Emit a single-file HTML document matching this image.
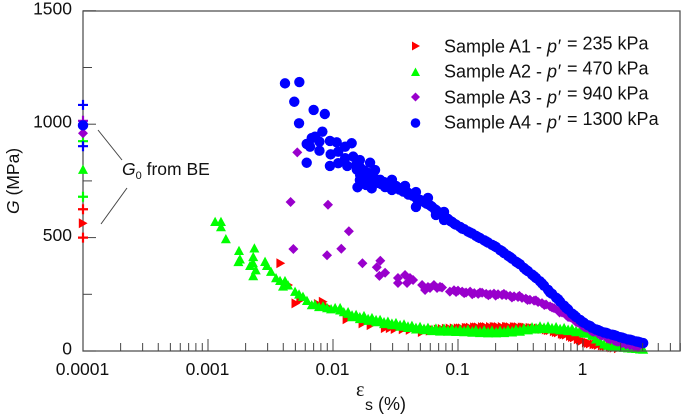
<!DOCTYPE html>
<html>
<head>
<meta charset="utf-8">
<title>G versus shear strain</title>
<style>
html,body{margin:0;padding:0;background:#fff;}
svg{display:block;}
text{font-family:"Liberation Sans",sans-serif;fill:#111;font-size:17.5px;}
.leg{font-size:18px;}
.it{font-style:italic;}
.axis{stroke:#555;stroke-width:1.3;fill:none;}
.tick{stroke:#444;stroke-width:1;}
.lead{stroke:#444;stroke-width:1;}
</style>
</head>
<body>
<svg id="chart" xmlns="http://www.w3.org/2000/svg" width="685" height="418" viewBox="0 0 685 418">
  <g id="marks"></g>
  <g id="axes">
    <rect class="axis" x="83" y="11" width="597" height="340"></rect>
  </g>
  <g id="g0marks"></g>
  <text transform="translate(19,214) rotate(-90)"><tspan class="it">G</tspan> (MPa)</text>
  <text x="356" y="396" style="font-family:'Liberation Serif',serif;font-size:20px">ε</text>
  <text x="365" y="410" style="font-size:16px">s</text>
  <text x="378" y="410" style="font-size:18px">(%)</text>
  <g>
    <line class="lead" x1="98" y1="130" x2="122" y2="160"></line>
    <line class="lead" x1="127" y1="188" x2="101" y2="224"></line>
    <text x="122" y="175"><tspan class="it">G</tspan><tspan dy="4" style="font-size:11px">0</tspan><tspan dy="-4"> from BE</tspan></text>
  </g>
  <g>
    <g>
      <polygon points="412,41.5 420,46 412,50.5" fill="#ff0000"></polygon>
      <text class="leg" x="444" y="52.5">Sample A1 -</text>
      <text class="leg it" x="547" y="52.5">p′</text>
      <text class="leg" x="567" y="49.5">= 235 kPa</text>
    </g>
    <g>
      <polygon points="411,76 420,76 415.5,67.5" fill="#00ff00"></polygon>
      <text class="leg" x="444" y="77.5">Sample A2 -</text>
      <text class="leg it" x="547" y="77.5">p′</text>
      <text class="leg" x="567" y="74.5">= 470 kPa</text>
    </g>
    <g>
      <polygon points="415.5,92.5 420,97 415.5,101.5 411,97" fill="#9900cc"></polygon>
      <text class="leg" x="444" y="103.5">Sample A3 -</text>
      <text class="leg it" x="547" y="103.5">p′</text>
      <text class="leg" x="567" y="99.5">= 940 kPa</text>
    </g>
    <g>
      <circle cx="415.5" cy="123" r="4.8" fill="#0000ff"></circle>
      <text class="leg" x="444" y="128.5">Sample A4 -</text>
      <text class="leg it" x="547" y="128.5">p′</text>
      <text class="leg" x="567" y="125">= 1300 kPa</text>
    </g>
  </g>
</svg>
<script>
var yTickLabels = [0, 500, 1000, 1500];
var yMinorTicks = [250, 750, 1250];
var xTickLabels = ["0.0001", "0.001", "0.01", "0.1", "1"];
var xMajorTicks = [0.0001, 0.001, 0.01, 0.1, 1];
var xMinorTicks = [0.0002,0.0003,0.0004,0.0005,0.0006,0.0007,0.0008,0.0009,0.002,0.003,0.004,0.005,0.006,0.007,0.008,0.009,0.02,0.03,0.04,0.05,0.06,0.07,0.08,0.09,0.2,0.3,0.4,0.5,0.6,0.7,0.8,0.9,2,3,4,5,6];

var a1Strain = [0.00381,0.0044,0.00503,0.0055,0.0076,0.00832,0.0091,0.0129,0.0173,0.0201,0.0261,0.0286,0.0313,0.0363,0.0413,0.0516,0.0597,0.0642,0.0692,0.0745,0.0803,0.0861,0.0929,0.1,0.108,0.116,0.125,0.135,0.145,0.156,0.168,0.181,0.194,0.209,0.225,0.243,0.261,0.281,0.302,0.325,0.349,0.376,0.406,0.437,0.47,0.506,0.545,0.587,0.633,0.68,0.733,0.79,0.85,0.912,0.98,1.06,1.14,1.22,1.32,1.42,1.53,1.65,1.77,1.91,0.104,0.12,0.14,0.162,0.2,0.25,0.29,0.336,0.39,0.45,0.525,0.61,0.7,0.82,0.95,1.1,1.27,1.47,1.7];
var a1G = [387,291,210,225,207,217,194,140,122,114,101,101,97,96,93,84,90,92,95,97,98,99,100,100,100,102,103,104,104,105,105,106,106,106,106,106,105,105,105,104,103,102,100,99,97,95,92,87,82,76,72,66,60,52,45,38,33,30,27,24,21,18,15,12,100,102,104,105,106,106,105,104,101,98,92,84,73,62,50,36,29,23,16];

var a2Strain = [0.00114,0.00127,0.00127,0.00139,0.00177,0.00235,0.0023,0.0018,0.00175,0.00229,0.00217,0.00241,0.0023,0.00286,0.00296,0.00319,0.0035,0.00377,0.00413,0.00398,0.00437,0.00497,0.00535,0.00575,0.00619,0.00676,0.00718,0.00773,0.00832,0.00896,0.00965,0.0104,0.0114,0.0122,0.0132,0.0142,0.0153,0.0164,0.0177,0.0191,0.0205,0.0221,0.0238,0.0256,0.0275,0.0296,0.0319,0.0344,0.037,0.0398,0.0428,0.0461,0.0497,0.0535,0.0575,0.0619,0.0666,0.0718,0.0773,0.0832,0.0896,0.0965,0.104,0.112,0.12,0.13,0.139,0.15,0.162,0.174,0.187,0.202,0.217,0.234,0.251,0.271,0.291,0.313,0.337,0.363,0.391,0.421,0.453,0.488,0.525,0.565,0.609,0.656,0.706,0.76,0.817,0.88,0.948,1.02,1.1,1.18,1.27,1.37,1.47,1.58,1.71,1.84,1.98,2.13,2.29,2.47,2.66,2.86,3.03,0.0114,0.0132,0.0153,0.0177,0.0205,0.0238,0.0275,0.0319,0.037,0.0428,0.0497,0.0575,0.0666,0.0773,0.0896,0.104,0.12,0.139,0.162,0.187,0.217,0.251,0.291,0.337,0.391,0.453,0.525,0.609,0.706,0.817,0.948,1.1,0.0142,0.0164,0.0191,0.0221,0.0256,0.0296,0.0344,0.0398,0.0461,0.0535,0.0619,0.0718,0.0832,0.0965,0.112,0.13,0.15,0.174,0.202,0.234,0.271,0.313,0.363,0.421,0.488,0.565,0.656,0.76,0.88,1.02];
var a2G = [570,570,547,494,442,453,415,405,393,388,376,357,331,394,376,350,322,310,309,285,290,262,250,240,222,203,205,195,198,190,185,190,180,172,165,158,152,150,148,142,138,137,130,128,124,122,118,115,110,109,105,103,101,99,97,95,94,93,93,92,92,91,90,90,88,88,87,86,85,85,85,85,85,86,87,89,90,92,95,98,100,102,103,104,103,102,100,98,96,95,92,90,87,84,78,68,52,42,30,24,20,18,16,15,13,11,10,8,7,190,172,160,155,146,138,130,124,118,112,107,103,100,99,98,96,95,93,92,91,91,93,96,101,105,109,109,106,102,98,92,78,150,142,134,128,120,115,108,103,96,93,89,87,86,85,84,82,80,79,79,80,83,86,92,96,98,96,92,89,84,78];

var a3Strain = [0.00458,0.00518,0.00912,0.0134,0.00482,0.01165,0.00896,0.0172,0.0239,0.0224,0.0261,0.0235,0.0331,0.0331,0.0377,0.0391,0.0413,0.0437,0.0516,0.0545,0.0575,0.0597,0.0642,0.068,0.0718,0.0745,0.0861,0.0929,0.1,0.108,0.116,0.125,0.135,0.145,0.156,0.168,0.181,0.194,0.209,0.225,0.243,0.261,0.281,0.302,0.325,0.349,0.376,0.406,0.437,0.47,0.506,0.545,0.587,0.633,0.68,0.733,0.79,0.85,0.912,0.98,1.06,1.14,1.22,1.32,1.42,1.53,1.65,1.77,1.91,2.05,2.21,2.38,2.56,2.75,0.0965,0.112,0.13,0.15,0.175,0.2,0.233,0.27,0.31,0.36,0.42,0.49,0.566,0.65,0.76,0.88,1.02,1.18,1.37,1.59,1.84];
var a3G = [657,876,645,528,450,451,422,387,398,369,345,331,322,300,335,300,322,313,291,269,282,278,291,278,283,280,262,268,266,262,258,262,255,252,257,252,250,253,250,247,246,243,241,238,234,231,226,222,216,211,205,197,189,178,170,158,148,136,125,112,102,92,84,76,68,60,52,46,40,34,28,24,20,16,260,255,250,258,246,244,252,236,243,225,223,203,192,170,150,128,105,86,70,54,42];

var a4Strain = [0.00413,0.00538,0.0049,0.007,0.0086,0.00535,0.00822,0.00616,0.00676,0.00655,0.00718,0.00779,0.00779,0.00945,0.0107,0.0141,0.0125,0.011,0.00958,0.00616,0.00945,0.011,0.0125,0.0145,0.013,0.0198,0.0157,0.0204,0.0153,0.0164,0.0174,0.0184,0.0164,0.0217,0.0198,0.0232,0.0184,0.0261,0.0377,0.0296,0.0164,0.0177,0.0191,0.0205,0.0221,0.0238,0.0256,0.0275,0.0296,0.0319,0.0344,0.037,0.0398,0.0428,0.0461,0.0497,0.0535,0.0575,0.0619,0.0666,0.0718,0.0773,0.0832,0.0896,0.0965,0.104,0.112,0.12,0.13,0.139,0.15,0.162,0.174,0.187,0.202,0.217,0.234,0.251,0.271,0.291,0.313,0.337,0.363,0.391,0.421,0.453,0.488,0.525,0.565,0.609,0.656,0.706,0.76,0.817,0.88,0.948,1.02,1.1,1.18,1.27,1.37,1.47,1.58,1.71,1.84,1.98,2.13,2.29,2.47,2.66,2.86,3.03,0.108,0.125,0.145,0.168,0.195,0.225,0.261,0.302,0.35,0.406,0.47,0.545,0.633,0.733,0.85,0.98,1.14,1.32,1.53,1.77,2.05,2.38,2.75,0.0155,0.0165,0.0175,0.019,0.0205,0.0225,0.0245,0.0265,0.029,0.0315,0.034,0.0365,0.04,0.0435,0.047,0.051,0.056,0.0605,0.065,0.07,0.075,0.081,0.087,0.094,0.0296,0.0461,0.0575,0.0773,0.0461,0.0666,0.0773];
var a4G = [1180,1186,1099,1063,1045,1004,967,913,939,901,945,923,883,926,920,916,901,879,867,830,816,828,850,857,816,830,722,717,820,842,798,772,754,798,763,741,732,723,728,710,811,795,785,775,757,755,745,740,735,728,718,708,698,688,678,666,657,648,636,622,610,596,582,569,557,547,537,527,518,508,498,488,478,468,458,445,432,420,407,394,382,366,352,337,322,307,288,270,252,235,217,200,183,165,150,137,124,113,103,95,88,82,77,72,67,61,56,51,47,42,38,35,540,522,502,483,463,440,414,388,358,330,298,258,228,190,158,130,110,92,80,70,59,50,41,800,775,780,760,750,745,735,728,720,722,712,703,690,684,670,662,650,640,626,612,600,585,573,560,755,701,675,613,635,600,578];

var g0CrossA1 = [500, 625];
var g0CrossA2 = [680, 925];
var g0CrossA3 = [1015];
var g0CrossA4 = [903, 1085];
var g0PointA1 = 563;
var g0PointA2 = 800;
var g0PointA3 = 960;
var g0PointA4 = 995;
var g0Strain = 0.0001;

var NS = 'http://www.w3.org/2000/svg';
var marks = document.getElementById('marks');
var axes = document.getElementById('axes');
var g0marks = document.getElementById('g0marks');

function xScale(v){ return 83 + (Math.log(v) / Math.LN10 + 4) * 125; }
function yScale(v){ return 351 - v * 0.2268; }

function make(tag, parent, attrs){
  var el = document.createElementNS(NS, tag);
  for (var k in attrs) { el.setAttribute(k, attrs[k]); }
  parent.appendChild(el);
  return el;
}
function triRight(parent, x, y){
  return make('polygon', parent, {points:(x-4.2)+','+(y-5)+' '+(x+4.6)+','+y+' '+(x-4.2)+','+(y+5), fill:'#ff0000'});
}
function triUp(parent, x, y){
  return make('polygon', parent, {points:(x-5)+','+(y+4.3)+' '+(x+5)+','+(y+4.3)+' '+x+','+(y-5), fill:'#00ff00'});
}
function diamond(parent, x, y){
  return make('polygon', parent, {points:x+','+(y-5)+' '+(x+5)+','+y+' '+x+','+(y+5)+' '+(x-5)+','+y, fill:'#9900cc'});
}
function dot(parent, x, y){
  return make('circle', parent, {cx:x, cy:y, r:5.2, fill:'#0000ff'});
}
function cross(parent, x, y, color){
  var g = make('path', parent, {d:'M'+(x-5)+' '+y+'H'+(x+5)+'M'+x+' '+(y-5)+'V'+(y+5), stroke:color, 'stroke-width':2.2, fill:'none'});
  return g;
}

var a1Group = make('g', marks, {});


a1Strain.forEach(function(s, i){
  var el = triRight(a1Group, xScale(s), yScale(a1G[i]));
  
  
});
var a2Group = make('g', marks, {});


a2Strain.forEach(function(s, i){
  var el = triUp(a2Group, xScale(s), yScale(a2G[i]));
  
  
});
var a3Group = make('g', marks, {});


a3Strain.forEach(function(s, i){
  var el = diamond(a3Group, xScale(s), yScale(a3G[i]));
  
  
});
var a4Group = make('g', marks, {});


a4Strain.forEach(function(s, i){
  var el = dot(a4Group, xScale(s), yScale(a4G[i]));
  
  
});

xMajorTicks.forEach(function(v, i){
  var x = xScale(v);
  var t = make('line', axes, {x1:x, x2:x, y1:351, y2:i === 0 ? 351 : 339, 'class':'tick'});
  
  
  var l = make('text', axes, {x:x - 0.5, y:375, 'text-anchor':'middle'});
  l.textContent = xTickLabels[i];
  
  
});
xMinorTicks.forEach(function(v){
  var x = xScale(v);
  var t = make('line', axes, {x1:x, x2:x, y1:351, y2:343, 'class':'tick'});
  
  
});
yTickLabels.forEach(function(v){
  var y = yScale(v);
  var t = make('line', axes, {x1:83, x2:96, y1:y, y2:y, 'class':'tick'});
  
  
  var l = make('text', axes, {x:72, y:y + 3.5, 'text-anchor':'end'});
  l.textContent = v;
  
  
});
yMinorTicks.forEach(function(v){
  var y = yScale(v);
  var t = make('line', axes, {x1:83, x2:92, y1:y, y2:y, 'class':'tick'});
  
  
});

var gx = xScale(g0Strain);
g0CrossA1.forEach(function(v){
  var el = cross(g0marks, gx, yScale(v), '#ff0000');
  
  
});
g0CrossA2.forEach(function(v){
  var el = cross(g0marks, gx, yScale(v), '#00ff00');
  
  
});
g0CrossA3.forEach(function(v){
  var el = cross(g0marks, gx, yScale(v), '#9900cc');
  
  
});
g0CrossA4.forEach(function(v){
  var el = cross(g0marks, gx, yScale(v), '#0000ff');
  
  
});
var p1 = triRight(g0marks, gx, yScale(g0PointA1));


var p2 = triUp(g0marks, gx, yScale(g0PointA2));


var p3 = diamond(g0marks, gx, yScale(g0PointA3));


var p4 = dot(g0marks, gx, yScale(g0PointA4));


</script>
</body>
</html>
